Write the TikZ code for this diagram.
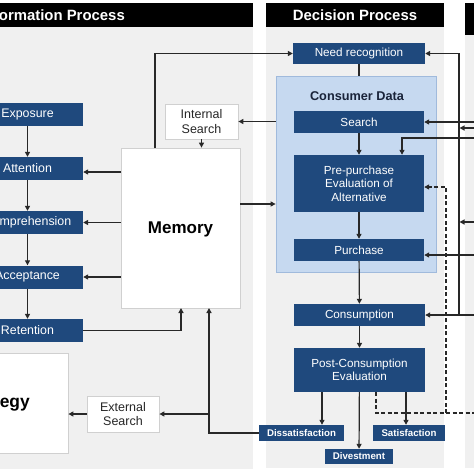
\documentclass[tikz,border=0pt]{standalone}
\usepackage{fontspec}
\setmainfont{Liberation Sans}
\usetikzlibrary{arrows.meta}
\definecolor{navy}{RGB}{31,73,125}
\definecolor{panel}{RGB}{240,240,240}
\definecolor{cdfill}{RGB}{198,217,240}
\definecolor{cdline}{RGB}{160,186,220}
\definecolor{cdtext}{RGB}{26,36,58}
\definecolor{wline}{RGB}{208,208,208}
\definecolor{lnk}{RGB}{40,40,40}
\begin{document}
\begin{tikzpicture}[x=1pt,y=-1pt,
  dbox/.style={fill=navy, text=white, inner sep=0pt, align=center,
    font=\fontsize{11.7}{13.6}\selectfont},
  cbox/.style={dbox, minimum width=130pt},
  lbox/.style={dbox, minimum width=111pt, minimum height=23pt,
    font=\fontsize{12.4}{14}\selectfont},
  sbox/.style={fill=navy, text=white, inner sep=0pt,
    font=\bfseries\fontsize{9.7}{11}\selectfont},
  wbox/.style={fill=white, draw=wline, line width=0.8pt, inner sep=0pt,
    align=center, text=black!85, font=\fontsize{12.5}{14.5}\selectfont},
  htext/.style={text=white, inner sep=0pt, font=\bfseries\fontsize{14.9}{16}\selectfont},
  conn/.style={draw=lnk, line width=1.2pt, -{Triangle[length=5pt,width=5pt]}},
  plain/.style={draw=lnk, line width=1.2pt},
  dconn/.style={draw=lnk, line width=1.2pt, dash pattern=on 4pt off 2.5pt}
]
\useasboundingbox (0,0) rectangle (474,474);
\clip (0,0) rectangle (474,474);
\fill[white] (0,0) rectangle (474,474);
% panels
\fill[panel] (0,27) rectangle (253,469);
\fill[panel] (266,27) rectangle (444,468);
\fill[panel] (465,35) rectangle (474,468);
% headers
\fill[black] (0,3) rectangle (253,27);
\node[htext, anchor=east] (hl) at (125,15) {Information Process};
\node[fill=black, minimum width=178pt, minimum height=24pt, htext] (hc) at (355,15) {Decision Process};
\fill[black] (465,3) rectangle (474,35);

% left column
\node[lbox] (expo) at (27.5,114.5) {Exposure};
\node[lbox] (atte) at (27.5,168.5) {Attention};
\node[lbox] (comp) at (27.5,222.5) {Comprehension};
\node[lbox] (acce) at (27.5,277) {Acceptance};
\node[lbox] (rete) at (27.5,330.5) {Retention};

\node[wbox, minimum width=119pt, minimum height=160pt,
  font=\bfseries\fontsize{17}{19}\selectfont, text=black, text depth=0pt] (mem) at (180.5,228) {Memory};
\node[wbox, minimum width=73pt, minimum height=35pt] (isr) at (201.5,121.5) {Internal\\Search};
\node[wbox, minimum width=72pt, minimum height=36pt] (esr) at (123,414) {External\\Search};
\node[wbox, minimum width=146pt, minimum height=100pt,
  font=\bfseries\fontsize{17.4}{19}\selectfont, text=black] (strat) at (-5,403) {Strategy};

% decision column
\node[cbox, minimum width=132pt, minimum height=21pt] (need) at (359,53.5) {Need recognition};
\node[fill=cdfill, draw=cdline, line width=0.8pt, minimum width=160pt, minimum height=196pt, inner sep=0pt] (cdata) at (356,174) {};
\node[text=cdtext, inner sep=0pt, font=\bfseries\fontsize{12.7}{14}\selectfont] (cdt) at (357,96) {Consumer Data};
\node[cbox, minimum height=22pt] (srch) at (359,122) {Search};
\node[cbox, minimum height=57pt] (pre) at (359,183.5) {Pre-purchase\\Evaluation of\\Alternative};
\node[cbox, minimum height=22pt] (purc) at (359,250) {Purchase};
\node[cbox, minimum width=131pt, minimum height=22pt] (cons) at (359.5,315) {Consumption};
\node[cbox, minimum width=131pt, minimum height=44pt] (post) at (359.5,370) {Post-Consumption\\Evaluation};
\node[sbox, minimum width=85pt, minimum height=16pt] (dis) at (301.5,433) {Dissatisfaction};
\node[sbox, minimum width=72pt, minimum height=16pt] (sat) at (409,433) {Satisfaction};
\node[sbox, minimum width=68pt, minimum height=15pt] (div) at (359,456.5) {Divestment};

% coordinates
\coordinate (mb1) at (181,308);
\coordinate (mb2) at (209,308);
\coordinate (br) at (209,414);
\coordinate (mt) at (155,148);
\coordinate (me) at (240,204);
\coordinate (ma) at (121,172);
\coordinate (p1) at (322,392);
\coordinate (p2) at (406,392);
\coordinate (r1) at (474,315);
\coordinate (v1) at (459,315);
\coordinate (r2) at (474,128);
\coordinate (v2) at (459.5,128);
\coordinate (r2b) at (474,222);
\coordinate (v2b) at (459.5,222);
\coordinate (r3) at (474,122);
\coordinate (r4) at (474,138);
\coordinate (pt) at (402,138);
\coordinate (r5) at (474,255);
\coordinate (d0) at (376,392);
\coordinate (d1) at (376,413);
\coordinate (d2) at (474,413);
\coordinate (d3) at (446,413);
\coordinate (d4) at (446,187);

% left connectors
\draw[conn] (expo) -- (atte);
\draw[conn] (atte) -- (comp);
\draw[conn] (comp) -- (acce);
\draw[conn] (acce) -- (rete);
\draw[conn] (ma) -- (atte.east |- ma);
\draw[conn] (mem.west |- comp.east) -- (comp.east);
\draw[conn] (mem.west |- acce.east) -- (acce.east);
\draw[conn] (rete.east) -| (mb1);
\draw[conn, line width=1.8pt] (dis.west) -| (mb2);
\draw[conn] (br) -- (esr.east);
\draw[conn] (esr.west) -- (strat.east |- esr.west);
\draw[conn] (isr.south) -- (isr.south |- mem.north);
\draw[conn] (cdata.west |- isr.east) -- (isr.east);
\draw[conn] (mt) |- (need.west);
\draw[conn] (me) -- (cdata.west |- me);

% decision connectors
\draw[plain] (need.south) -- (need.south |- cdata.north);
\draw[conn] (srch) -- (pre);
\draw[conn] (pre) -- (purc);
\draw[conn] (purc) -- (cons);
\draw[conn] (cons) -- (post);
\draw[conn] (post) -- (div);
\draw[conn] (p1) -- (p1 |- dis.north);
\draw[conn] (p2) -- (p2 |- sat.north);

% right connectors
\draw[conn] (r1) -- (cons.east);
\draw[conn] (v1) |- (need.east);
\draw[conn] (r2) -- (v2);
\draw[conn] (r2b) -- (v2b);
\draw[conn] (r3) -- (srch.east);
\draw[conn] (r4) -| (pre.north -| pt);
\draw[conn] (r5) -- (purc.east |- r5);
\draw[dconn] (d0) -- (d1) -- (d2);
\draw[dconn, -{Triangle[length=5pt,width=5pt]}] (d3) -- (d4) -- (pre.east |- d4);
\end{tikzpicture}
\end{document}
